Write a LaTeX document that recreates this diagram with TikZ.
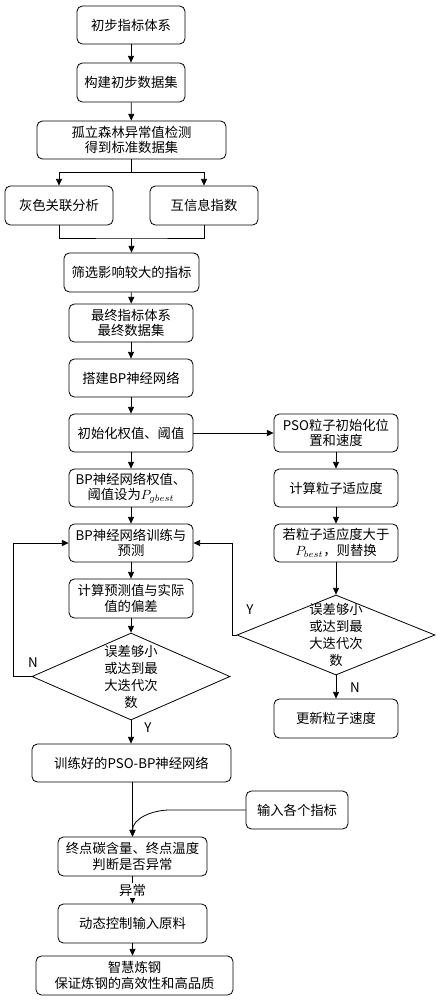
\documentclass[tikz,border=0pt]{standalone}
\usepackage{fontspec}
\setmainfont{Noto Sans CJK SC}
\usetikzlibrary{shapes.geometric,arrows.meta}
\begin{document}
\begin{tikzpicture}[x=0.75pt,y=-0.75pt,line width=0.6pt,
  box/.style={draw, rounded corners=4pt, align=center, inner sep=1pt,
    font=\fontsize{10}{11.5}\selectfont},
  sz/.style 2 args={minimum width=#1*0.75pt, minimum height=#2*0.75pt},
  dia/.style={draw, diamond, inner sep=0pt},
  dtext/.style={align=center, font=\fontsize{10}{12.75}\selectfont},
  lab/.style={font=\fontsize{10}{12}\selectfont, inner sep=1pt},
  arr/.style={-{Triangle[length=5pt,width=4.5pt]}}]
\useasboundingbox (0,0) rectangle (441,1000);

% left column
\node[box, sz={108}{38}] (b1) at (131,25) {初步指标体系};
\node[box, sz={108}{39}] (b2) at (131,82.5) {构建初步数据集};
\node[box, sz={189}{38}] (b3) at (131.5,140) {孤立森林异常值检测\\得到标准数据集};
\node[box, sz={108}{39}] (b4) at (59,205.5) {灰色关联分析};
\node[box, sz={108}{39}] (b5) at (204,205.5) {互信息指数};
\node[box, sz={135}{39}] (b6) at (131.5,272.5) {筛选影响较大的指标};
\node[box, sz={124}{38}] (b7) at (131,323) {最终指标体系\\最终数据集};
\node[box, sz={124}{38}] (b8) at (131,378) {搭建BP神经网络};
\node[box, sz={124}{38}] (b9) at (131,433) {初始化权值、阈值};
\node[box, sz={124}{38}] (b10) at (131,488) {BP神经网络权值、\\阈值设为$P_{gbest}$};
\node[box, sz={124}{38}] (b11) at (131,543) {BP神经网络训练与\\预测};
\node[box, sz={124}{39}] (b12) at (131,598.5) {计算预测值与实际\\值的偏差};
\node[dia, sz={198}{87}] (d1) at (131,676.5) {};
\node[dtext] at (d1) {误差够小\\或达到最\\大迭代次\\数};
\node[box, sz={199}{38}] (b13) at (131.5,763) {训练好的PSO-BP神经网络};
\node[box, sz={102}{38}] (inp) at (297,810) {输入各个指标};
\node[box, sz={149}{39}] (b14) at (132.5,856.5) {终点碳含量、终点温度\\判断是否异常};
\node[box, sz={149}{39}] (b15) at (132.5,923.5) {动态控制输入原料};
\node[box, sz={197}{39}] (b16) at (134.5,975.5) {智慧炼钢\\保证炼钢的高效性和高品质};

% right column
\node[box, sz={124}{38}] (r1) at (336,433) {PSO粒子初始化位\\置和速度};
\node[box, sz={124}{38}] (r2) at (336,488) {计算粒子适应度};
\node[box, sz={124}{38}] (r3) at (336,543) {若粒子适应度大于\\$P_{best}$，则替换};
\node[dia, sz={198}{80}] (d2) at (336,635) {};
\node[dtext] at (d2) {误差够小\\或达到最\\大迭代次\\数};
\node[box, sz={124}{39}] (r4) at (336,718.5) {更新粒子速度};

% connectors
\draw[arr] (b1) -- (b2);
\draw[arr] (b2) -- (b3);
\coordinate (br) at (131.5,172);
\draw (b3.south) -- (br);
\draw[arr] (br) -| (b4.north);
\draw[arr] (br) -| (b5.north);
\coordinate (mg) at (131.5,238);
\draw (b4.south) |- (mg) -| (b5.south);
\draw[arr] (mg) -- (b6.north);
\draw[arr] (b6) -- (b7);
\draw[arr] (b7) -- (b8);
\draw[arr] (b8) -- (b9);
\draw[arr] (b9) -- (b10);
\draw[arr] (b10) -- (b11);
\draw[arr] (b11) -- (b12);
\draw[arr] (b12) -- (d1.north);
\draw[arr] (b9.east) -- (r1.west);
\draw[arr] (r1) -- (r2);
\draw[arr] (r2) -- (r3);
\draw[arr] (r3) -- (d2.north);
\draw[arr] (d2.south) -- (r4.north);
\coordinate (nl) at (13,676.5);
\draw[arr] (d1.west) -- (nl) |- (b11.west);
\coordinate (yl) at (232,635);
\draw[arr] (d2.west) -- (yl) |- (b11.east);
\draw[arr] (d1.south) -- (b13.north -| d1.south);
\draw[arr] (b13.south -| b14.north) -- (b14.north);
\coordinate (ic) at (170,810);
\draw[arr] (inp.west) -- (ic) to[out=180,in=90] (b14.north);
\draw[arr] (b14) -- node[lab, fill=white] {异常} (b15);
\draw[arr] (b15.south) -- (b15.south |- b16.north);

% labels
\node[lab] at (33,663) {N};
\node[lab] at (148,728) {Y};
\node[lab] at (250,610) {Y};
\node[lab] at (355,688) {N};
\end{tikzpicture}
\end{document}
